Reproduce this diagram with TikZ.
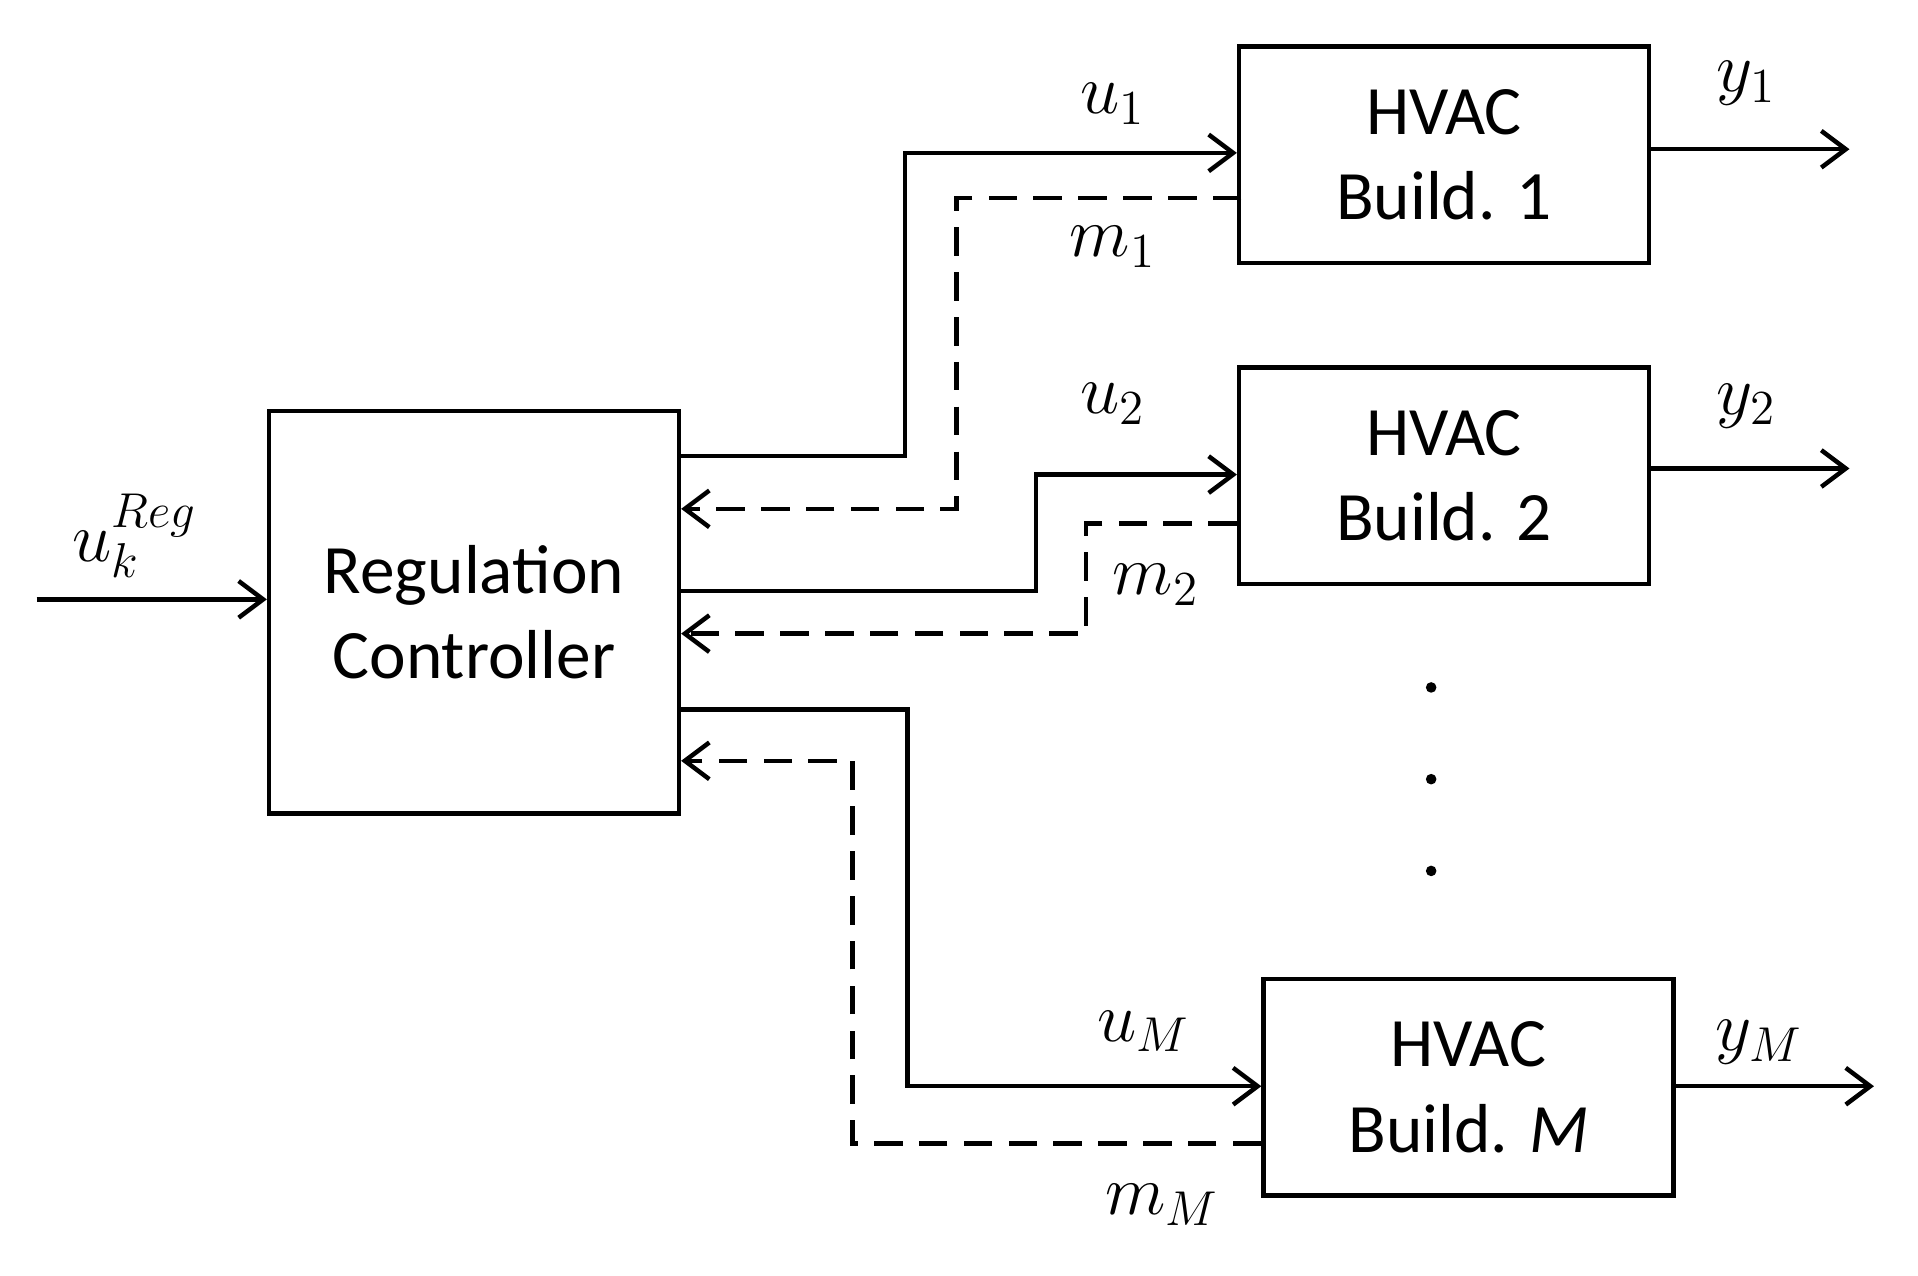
\documentclass[tikz,border=0pt]{standalone}
\usepackage{fontspec}
\setmainfont{Carlito}
\usetikzlibrary{arrows.meta}
\begin{document}
\begin{tikzpicture}[x=0.3pt,y=-0.3pt,
  box/.style={draw,line width=1.1pt,font=\fontsize{17}{21}\selectfont,align=center,inner sep=0},
  sig/.style={line width=1.1pt,-{Straight Barb[length=6pt,width=9pt]}},
  fb/.style={sig,dash pattern=on 7pt off 4pt},
  lab/.style={font=\fontsize{17}{20}\selectfont}]
\useasboundingbox (0,0) rectangle (1568,1043);
\node[box,minimum width=100.5pt,minimum height=98.7pt] (rc) at (387.5,500.5) {Regulation\\Controller};
\node[box,minimum width=100.5pt,minimum height=53.1pt] (h1) at (1180.5,126.5) {HVAC\\Build. 1};
\node[box,minimum width=100.5pt,minimum height=53.1pt] (h2) at (1180.5,389) {HVAC\\Build. 2};
\node[box,minimum width=100.5pt,minimum height=53.1pt] (hM) at (1200.5,889) {HVAC\\Build. \textit{M}};
\coordinate (in) at (30,490);
\coordinate (o1) at (1512,122);
\coordinate (o2) at (1512,383);
\coordinate (oM) at (1532,888);
\draw[sig] (in) -- (in -| rc.west);
\node[lab] (lin) at (110,438) {$u_k^{Reg}$};
\draw[sig] (rc.east |- 0,373) -- (740,373) -- (740,125) -- (h1.west |- 0,125);
\draw[fb] (h1.east |- 0,162) ++(-335,0) -- (782,162) -- (782,416) -- (rc.east |- 0,416);
\draw[sig] (rc.east |- 0,483) -- (847,483) -- (847,388) -- (h2.west |- 0,388);
\draw[fb] (h2.west |- 0,428) -- (888,428) -- (888,518) -- (rc.east |- 0,518);
\draw[sig] (rc.east |- 0,580) -- (742,580) -- (742,888) -- (hM.west |- 0,888);
\draw[fb] (hM.west |- 0,935) -- (697,935) -- (697,622) -- (rc.east |- 0,622);
\draw[sig] (h1.east |- o1) -- (o1);
\draw[sig] (h2.east |- o2) -- (o2);
\draw[sig] (hM.east |- oM) -- (oM);
\node[lab] (lu1) at (910,85) {$u_1$};
\node[lab] (lm1) at (910,202) {$m_1$};
\node[lab] (lu2) at (910,330) {$u_2$};
\node[lab] (lm2) at (945,478) {$m_2$};
\node[lab] (luM) at (935,843) {$u_M$};
\node[lab] (lmM) at (950,985) {$m_M$};
\node[lab] (ly1) at (1428,68) {$y_1$};
\node[lab] (ly2) at (1428,332) {$y_2$};
\node[lab] (lyM) at (1438,852) {$y_M$};
\foreach \y/\n in {562/a,637/b,712/c} \fill (1170,\y) circle (1.3pt) node (d\n) {};
\end{tikzpicture}
\end{document}
